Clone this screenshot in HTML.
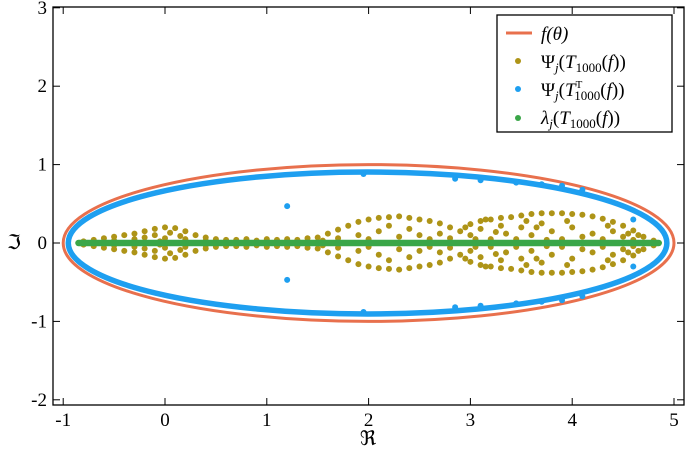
<!DOCTYPE html>
<html><head><meta charset="utf-8"><style>
body{margin:0;background:#fff;width:685px;height:451px;overflow:hidden}
text{font-family:"Liberation Serif","DejaVu Serif",serif;fill:#000}
</style></head><body>
<svg id="chart" width="685" height="451" xmlns="http://www.w3.org/2000/svg">
<g id="plot"></g>
<g id="axes"></g>
<g id="legend">
<rect x="497" y="15" width="175" height="117" fill="#fff" stroke="#000" stroke-width="1.3"/>
<g><line x1="506" y1="33" x2="532" y2="33" stroke="#e8704d" stroke-width="3"/><text x="541" y="40" font-size="19" font-style="italic">f(θ)</text></g>
<g><circle cx="518" cy="61" r="3" fill="#ae9417"/><text x="541" y="68" font-size="19">Ψ<tspan font-style="italic" font-size="13" dy="4">j</tspan><tspan dy="-4">(</tspan><tspan font-style="italic">T</tspan><tspan font-size="13" dy="4">1000</tspan><tspan dy="-4">(</tspan><tspan font-style="italic">f</tspan>))</text></g>
<g><circle cx="518" cy="89" r="3" fill="#1e9ff0"/><text x="541" y="96" font-size="19">Ψ<tspan font-style="italic" font-size="13" dy="4">j</tspan><tspan dy="-4">(</tspan><tspan font-style="italic">T</tspan><tspan font-size="11" dy="-8">T</tspan><tspan font-size="13" dx="-8" dy="12">1000</tspan><tspan dy="-4">(</tspan><tspan font-style="italic">f</tspan>))</text></g>
<g><circle cx="518" cy="118" r="3" fill="#3aa648"/><text x="541" y="124" font-size="19"><tspan font-style="italic">λ</tspan><tspan font-style="italic" font-size="13" dy="4">j</tspan><tspan dy="-4">(</tspan><tspan font-style="italic">T</tspan><tspan font-size="13" dy="4">1000</tspan><tspan dy="-4">(</tspan><tspan font-style="italic">f</tspan>))</text></g>
</g>
</svg>
<script>
const xTicks=[-1,0,1,2,3,4,5];
const yTicks=[-2,-1,0,1,2,3];
const symbolCenter=2, symbolHalfWidth=3, symbolHalfHeight=1;
const blueCenter=1.99, blueHalfWidth=2.94, blueHalfHeight=0.905;
const eigMin=-0.85, eigMax=4.85;
const blueRe=[1.2,1.95,2.85,3.1,3.45,3.7,3.9,4.1,4.6];
const blueIm=[0.47,0.88,0.82,0.80,0.77,0.75,0.73,0.68,0.3];
const oliveRe=[-0.8,-0.7,-0.6,-0.5,-0.4,-0.3,-0.2,-0.1,0,0.1,0.2,0.3,0.4,0.5,0.6,-0.1,0,0.05,0.15,-0.5,-0.3,-0.2,0.2,0.4,-0.05,
0.7,0.8,0.9,1.0,1.1,1.2,1.3,1.4,
1.5,1.6,1.7,1.8,1.9,2.0,2.1,2.2,2.3,2.4,2.5,2.6,2.7,2.8,2.9,1.7,1.9,2.0,2.1,2.3,2.4,2.5,2.6,2.7,2.8,2.2,1.55,
2.95,3.0,3.1,3.2,3.3,3.4,3.5,3.6,3.7,3.8,3.9,4.0,4.1,4.2,4.3,4.4,4.5,4.6,4.7,4.8,
3.0,3.1,3.2,3.3,3.35,3.5,3.55,3.6,3.7,3.8,3.9,4.0,4.2,4.3,4.4,4.5,4.6,4.65,3.15,3.45,3.75,3.05,4.1,3.25,3.65,3.95,4.35,4.55];
const oliveIm=[0.02,0.04,0.06,0.08,0.10,0.12,0.15,0.18,0.20,0.19,0.15,0.10,0.07,0.05,0.04,0.10,0.06,0.13,0.09,0.03,0.05,0.07,0.05,0.03,0.02,
0.04,0.05,0.03,0.05,0.04,0.05,0.04,0.06,
0.07,0.12,0.17,0.22,0.27,0.30,0.32,0.33,0.34,0.32,0.30,0.28,0.25,0.20,0.15,0.06,0.10,0.05,0.15,0.08,0.18,0.10,0.05,0.12,0.06,0.22,0.03,
0.20,0.24,0.28,0.30,0.32,0.33,0.35,0.37,0.38,0.38,0.38,0.37,0.36,0.34,0.31,0.27,0.22,0.16,0.08,0.03,
0.10,0.18,0.05,0.22,0.12,0.20,0.28,0.10,0.25,0.15,0.05,0.20,0.12,0.05,0.15,0.08,0.04,0.10,0.30,0.05,0.04,0.05,0.08,0.14,0.20,0.28,0.22,0.12];
const NS="http://www.w3.org/2000/svg";
const L=53,R=684,T=7,B=405;
const X=v=>165+(v)*101.8;
const Y=v=>243-v*78.4;
const plot=document.getElementById('plot'),axes=document.getElementById('axes');
function mk(tag,attrs,parent){const e=document.createElementNS(NS,tag);for(const k in attrs)e.setAttribute(k,attrs[k]);parent.appendChild(e);return e;}
let e=mk('ellipse',{cx:X(symbolCenter),cy:Y(0),rx:X(symbolCenter+symbolHalfWidth)-X(symbolCenter),ry:Y(0)-Y(symbolHalfHeight),fill:'none',stroke:'#e8704d','stroke-width':3},plot);


e=mk('ellipse',{cx:X(blueCenter),cy:Y(0),rx:X(blueCenter+blueHalfWidth)-X(blueCenter),ry:Y(0)-Y(blueHalfHeight),fill:'none',stroke:'#1e9ff0','stroke-width':5.5},plot);


blueRe.forEach((r,i)=>{[1,-1].forEach(s=>{const c=mk('circle',{cx:X(r),cy:Y(s*blueIm[i]),r:3,fill:'#1e9ff0'},plot);

});});
oliveRe.forEach((r,i)=>{[1,-1].forEach(s=>{const c=mk('circle',{cx:X(r),cy:Y(s*oliveIm[i]),r:3,fill:'#ae9417'},plot);

});});
e=mk('line',{x1:X(eigMin),x2:X(eigMax),y1:Y(0),y2:Y(0),stroke:'#3aa648','stroke-width':6.5,'stroke-linecap':'round'},plot);


e=mk('rect',{x:L,y:T,width:R-L,height:B-T,fill:'none',stroke:'#000','stroke-width':1.3},axes);


xTicks.forEach(v=>{mk('line',{x1:X(v),x2:X(v),y1:B,y2:B-7,stroke:'#000'},axes);mk('line',{x1:X(v),x2:X(v),y1:T,y2:T+7,stroke:'#000'},axes);
const t=mk('text',{x:X(v),y:B+21,'font-size':19,'text-anchor':'middle'},axes);t.textContent=v<0?'-'+Math.abs(v):v;

});
yTicks.forEach(v=>{mk('line',{x1:L,x2:L+7,y1:Y(v),y2:Y(v),stroke:'#000'},axes);mk('line',{x1:R,x2:R-7,y1:Y(v),y2:Y(v),stroke:'#000'},axes);
const t=mk('text',{x:L-6,y:Y(v)+6,'font-size':19,'text-anchor':'end'},axes);t.textContent=v<0?'-'+Math.abs(v):v;

});
let t=mk('text',{x:368,y:445,'font-size':20,'text-anchor':'middle'},axes);t.textContent='ℜ';


t=mk('text',{x:14,y:249,'font-size':20,'text-anchor':'middle'},axes);t.textContent='ℑ';


document.getElementById('chart').appendChild(document.getElementById('legend'));
</script>
</body></html>
